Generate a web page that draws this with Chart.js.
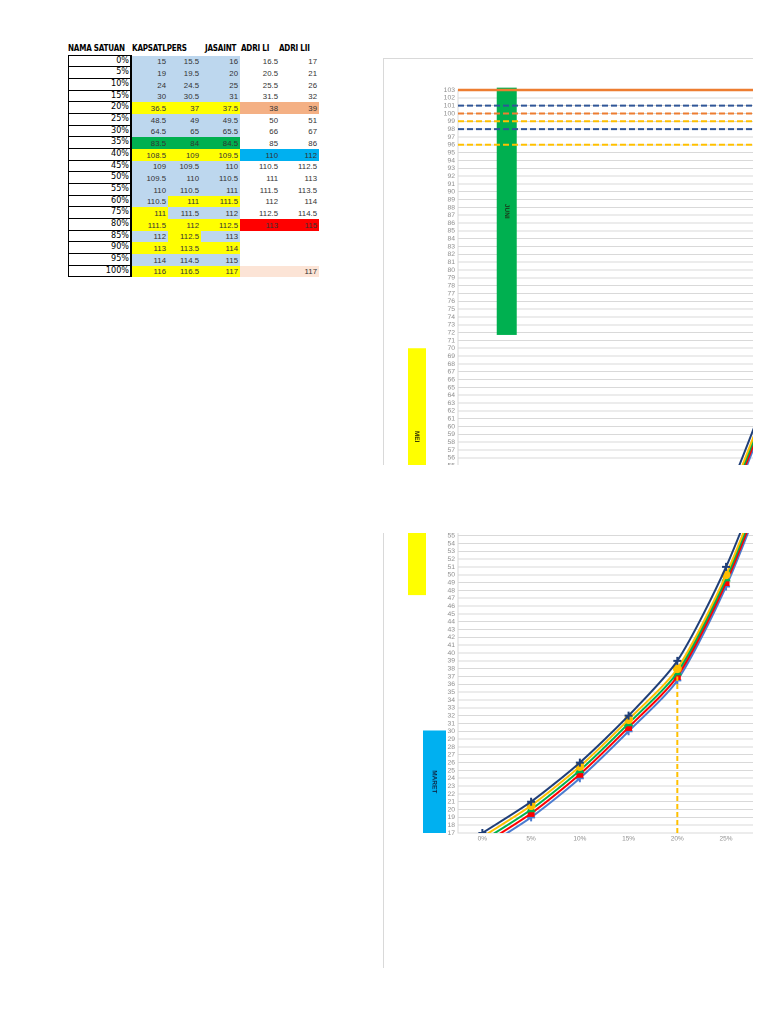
<!DOCTYPE html>
<html><head><meta charset="utf-8">
<script src="https://cdn.jsdelivr.net/npm/chart.js@4"></script>
<style>
html,body{margin:0;padding:0;background:#fff;width:768px;height:1024px;overflow:hidden;position:relative;}
.abs{position:absolute;}
.win{position:absolute;overflow:hidden;}
.win canvas{position:absolute;left:0;}
.hd{position:absolute;font:bold 8px "Liberation Sans Narrow","DejaVu Sans Condensed",sans-serif;color:#000;white-space:nowrap;letter-spacing:-0.2px;}
.lab{position:absolute;box-sizing:border-box;border-left:1px solid #000;border-right:2px solid #000;border-bottom:1px solid #000;font:9px "Liberation Sans Narrow","DejaVu Sans Condensed",sans-serif;text-align:right;padding-right:1px;line-height:9px;color:#000;background:#fff;}
.cell{position:absolute;box-sizing:border-box;font:7.8px "Liberation Sans","DejaVu Sans",sans-serif;text-align:right;padding-right:2px;color:#333;white-space:nowrap;}
</style></head>
<body>
<div id="table"></div>
<div class="abs" style="left:383px;top:58px;width:370px;height:1px;background:#d9d9d9"></div>
<div class="abs" style="left:383px;top:58px;width:1px;height:407px;background:#d9d9d9"></div>
<div class="abs" style="left:383px;top:533px;width:1px;height:435px;background:#d9d9d9"></div>
<div class="win" style="left:384px;top:59px;width:369px;height:406px;"><canvas id="cTop" width="1011" height="840" style="top:-1px;left:-1px"></canvas></div>
<div class="win" style="left:384px;top:533px;width:369px;height:435px;"><canvas id="cBot" width="1011" height="840" style="top:-405px;left:-1px"></canvas></div>
<script>
// ---------- data ----------
const categories = ['0%','5%','10%','15%','20%','25%','30%','35%','40%','45%','50%','55%','60%','75%','80%','85%','90%','95%','100%'];
const columnNames = ['KAPSATLPERS','','JASAINT','ADRI LI','ADRI LII'];
const kapsatlpers = [15,19,24,30,36.5,48.5,64.5,83.5,108.5,109,109.5,110,110.5,111,111.5,112,113,114,116];
const kolom2      = [15.5,19.5,24.5,30.5,37,49,65,84,109,109.5,110,110.5,111,111.5,112,112.5,113.5,114.5,116.5];
const jasaint     = [16,20,25,31,37.5,49.5,65.5,84.5,109.5,110,110.5,111,111.5,112,112.5,113,114,115,117];
const adriLI      = [16.5,20.5,25.5,31.5,38,50,66,85,110,110.5,111,111.5,112,112.5,113,null,null,null,null];
const adriLII     = [17,21,26,32,39,51,67,86,112,112.5,113,113.5,114,114.5,115,null,null,null,117];
// cell fill codes per row (b=light blue, y=yellow, p=peach, g=green, c=cyan, r=red, l=light peach, w=white)
const cellFills = ['bbbww','bbbww','bbbww','bbbww','yyypp','bbbww','bbbww','gggww','yyycc','bbbww','bbbww','bbbww','byyww','ybbww','yyyrr','bybww','yyyww','bbbww','yyyll'];
// reference levels (horizontal lines)
const refLevels = [103,101,100,99,98,96];
const refKinds  = ['orangeSolid','navyDash','orangeDash','goldDash','navyDash','goldDash'];
// drop line at 20%
const dropCategory = '20%';
const dropRange = [17,37];
// month boxes
const boxNames = ['JUNI','MEI','MARET'];
const boxRanges = [[71.7,103.3],[47.4,70],[17,30.1]];

// ---------- table ----------
const fillColor = {b:'#BDD7EE',y:'#FFFF00',p:'#F4B084',g:'#00B050',c:'#00B0F0',r:'#FF0000',l:'#FCE4D6',w:'transparent'};
const colX = [131,167,200,239,279,318];
const rowTop = 55.7, rowH = 11.67;
const series = [kapsatlpers,kolom2,jasaint,adriLI,adriLII];
let html = '<div class="hd" style="left:68px;top:44px">NAMA SATUAN</div>';
const hdX = [132,0,205,241,279];
columnNames.forEach((n,i)=>{ if(n) html += `<div class="hd" style="left:${hdX[i]}px;top:44px">${n}</div>`; });
html += `<div class="abs" style="left:68px;top:${Math.round(rowTop)-1}px;width:64px;height:1px;background:#000"></div>`;
categories.forEach((c,r)=>{
  const top = Math.round(rowTop + r*rowH);
  const next = Math.round(rowTop + (r+1)*rowH);
  const h = next - top;
  html += `<div class="lab" style="left:68px;top:${top}px;width:64px;height:${h}px;">${c}</div>`;
  for(let k=0;k<5;k++){
    const v = series[k][r];
    const f = fillColor[cellFills[r][k]];
    const txt = (v===null)?'':v;
    html += `<div class="cell" style="left:${colX[k]+1}px;top:${top}px;width:${colX[k+1]-colX[k]}px;height:${h}px;line-height:${h+1}px;background:${f}">${txt}</div>`;
  }
});
document.getElementById('table').innerHTML = html;

// ---------- chart ----------
const refStyle = {
  orangeSolid:{c:'#ED7D31',dash:[],w:2.5},
  orangeDash:{c:'#ED7D31',dash:[6,3],w:2},
  navyDash:{c:'#2F5597',dash:[6,3],w:2},
  goldDash:{c:'#FFC000',dash:[6,3],w:2}
};
const boxStyle = [
  {fill:'#00B050',text:'#1a3a1a',inPlot:true,w:20},
  {fill:'#FFFF00',text:'#333300',xFrom:-50,xTo:-32},
  {fill:'#00B0F0',text:'#0d2b4a',xFrom:-35,xTo:-12}
];
const boxPlugin = {
  id:'boxes',
  beforeDatasetsDraw(chart){
    const ctx = chart.ctx, x = chart.scales.x, y = chart.scales.y, a = chart.chartArea;
    boxNames.forEach((name,i)=>{
      const s = boxStyle[i];
      let x0,x1;
      if(s.inPlot){
        const cx = (x.getPixelForValue(0)+x.getPixelForValue(1))/2;
        x0 = cx - s.w/2; x1 = cx + s.w/2;
      } else { x0 = a.left + s.xFrom; x1 = a.left + s.xTo; }
      const yTop = y.getPixelForValue(boxRanges[i][1]);
      const yBot = y.getPixelForValue(boxRanges[i][0]);
      ctx.save();
      ctx.fillStyle = s.fill;
      ctx.fillRect(x0,yTop,x1-x0,yBot-yTop);
      ctx.translate((x0+x1)/2,(yTop+yBot)/2);
      ctx.rotate(Math.PI/2);
      ctx.fillStyle = s.text;
      ctx.font = 'bold 6.5px "Liberation Sans", sans-serif';
      ctx.textAlign = 'center'; ctx.textBaseline = 'middle';
      ctx.fillText(name,0,0);
      ctx.restore();
    });
  }
};

function lineDs(label,data,color,style,radius){
  return {type:'line',label,data,borderColor:color,backgroundColor:color,borderWidth:2,
    pointStyle:style,pointRadius:radius,pointBorderWidth:2,pointBackgroundColor:color,pointBorderColor:color,
    tension:0.25,spanGaps:false,xAxisID:'x',yAxisID:'y'};
}
function makeConfig(){
  const datasets = [];
  refLevels.forEach((lv,i)=>{
    const st = refStyle[refKinds[i]];
    datasets.push({type:'line',label:'ref'+lv,data:[{x:0,y:lv},{x:1,y:lv}],xAxisID:'x2',yAxisID:'y',
      borderColor:st.c,borderDash:st.dash,borderWidth:st.w,pointRadius:0,fill:false,clip:false});
  });
  datasets.push({type:'line',label:'drop',data:[{x:dropCategory,y:dropRange[0]},{x:dropCategory,y:dropRange[1]}],
    xAxisID:'x',yAxisID:'y',borderColor:'#FFC000',borderDash:[5,3],borderWidth:2,pointRadius:0});
  datasets.push(lineDs('ADRI LII',adriLII,'#203F78','cross',4));
  datasets.push(lineDs('ADRI LI',adriLI,'#FFC000','circle',3.5));
  datasets.push(lineDs('JASAINT',jasaint,'#00B050','triangle',3.5));
  datasets.push(lineDs('KAPSATLPERS 2',kolom2,'#FF0000','rect',3.5));
  datasets.push(lineDs('KAPSATLPERS',kapsatlpers,'#4A7BD0','cross',4));
  return {
    type:'line',
    data:{labels:categories,datasets},
    options:{
      responsive:false,animation:false,devicePixelRatio:2,
      layout:{padding:{left:53,top:32,right:10,bottom:119}},
      plugins:{legend:{display:false},tooltip:{enabled:false}},
      scales:{
        x:{type:'category',offset:true,grid:{display:false,drawTicks:false},
           border:{color:'#d9d9d9'},
           ticks:{color:'#8c8c8c',font:{size:6.5,family:'Liberation Sans'},padding:2,maxRotation:0},
           afterFit(s){s.height=16;}},
        x2:{type:'linear',min:0,max:1,display:false},
        y:{type:'linear',min:17,max:103,
           grid:{color:'#d9d9d9',lineWidth:1,drawTicks:false},
           border:{color:'#d9d9d9'},
           ticks:{stepSize:1,autoSkip:false,color:'#8c8c8c',font:{size:6.8,family:'Liberation Sans'},padding:3},
           afterFit(s){s.width=22;}}
      }
    },
    plugins:[boxPlugin]
  };
}
new Chart(document.getElementById('cTop'),makeConfig());
new Chart(document.getElementById('cBot'),makeConfig());
</script>
</body></html>
